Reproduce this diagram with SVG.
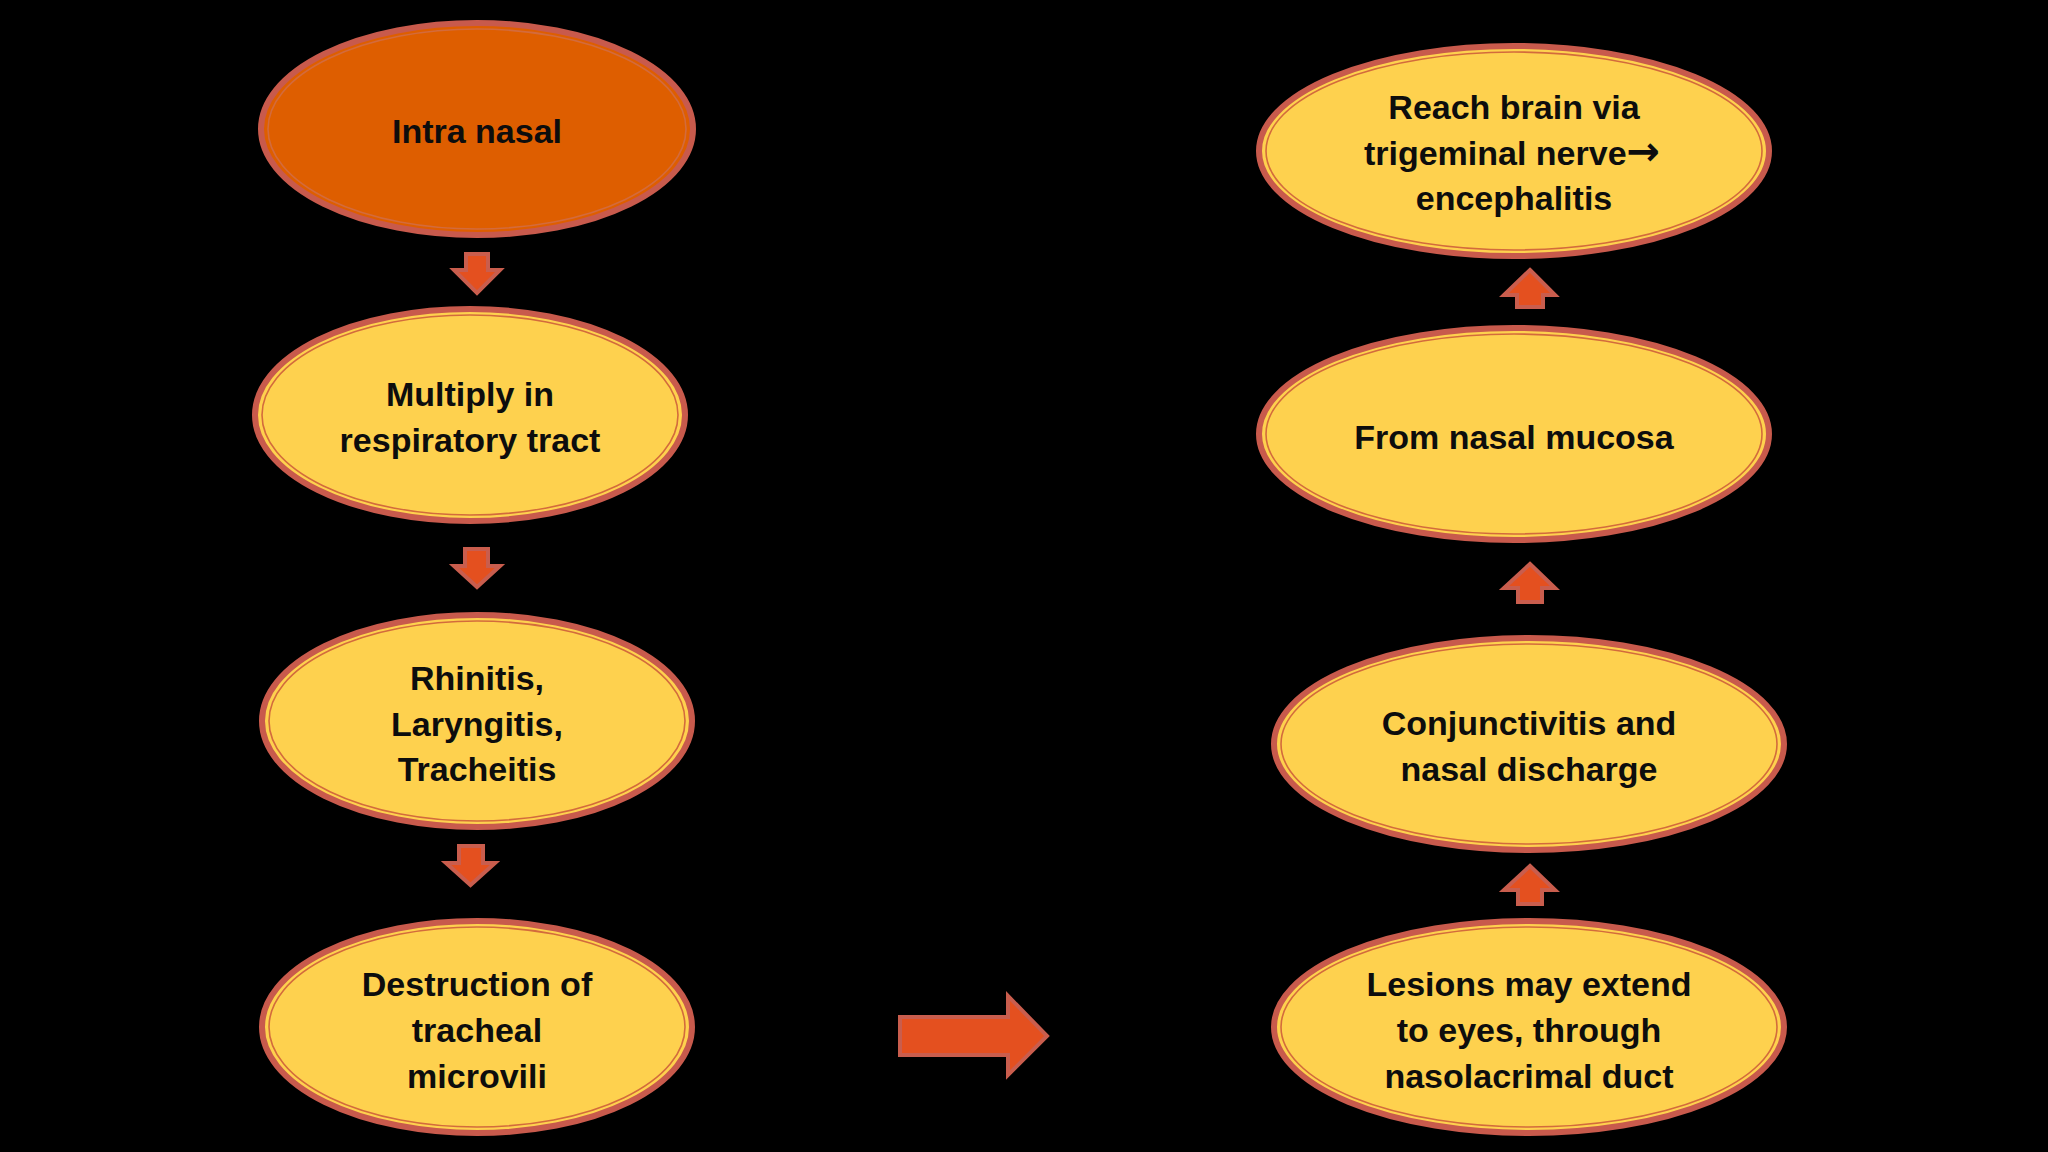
<svg xmlns="http://www.w3.org/2000/svg" width="2048" height="1152" viewBox="0 0 2048 1152">
<style>
.bg{fill:#000}
.el{fill:#FED14E;stroke:#C85A4C;stroke-width:6}
.el.dark{fill:#DE5E00}
.inner{fill:none;stroke:#D36B3C;stroke-width:1.6}
.arr{fill:#E4501F;stroke:#C95D4D;stroke-width:4;stroke-linejoin:miter}
text{font-family:"Liberation Sans",Arial,sans-serif;font-weight:bold;font-size:34px;fill:#0d0d0d;text-anchor:middle}
.sym{font-family:"DejaVu Sans",sans-serif;font-size:40px}
</style>
<rect class="bg" x="0" y="0" width="2048" height="1152"/>

<g id="n1">
<ellipse class="el dark" cx="477" cy="129" rx="216" ry="106"/>
<ellipse class="inner" cx="477" cy="129" rx="209" ry="100"/>
<text x="477" y="143">Intra nasal</text>
</g>

<g id="n2">
<ellipse class="el" cx="470" cy="415" rx="215" ry="106"/>
<ellipse class="inner" cx="470" cy="415" rx="208" ry="100"/>
<text x="470" y="406">Multiply in</text>
<text x="470" y="452">respiratory tract</text>
</g>

<g id="n3">
<ellipse class="el" cx="477" cy="721" rx="215" ry="106"/>
<ellipse class="inner" cx="477" cy="721" rx="208" ry="100"/>
<text x="477" y="690">Rhinitis,</text>
<text x="477" y="736">Laryngitis,</text>
<text x="477" y="781">Tracheitis</text>
</g>

<g id="n4">
<ellipse class="el" cx="477" cy="1027" rx="215" ry="106"/>
<ellipse class="inner" cx="477" cy="1027" rx="208" ry="100"/>
<text x="477" y="996">Destruction of</text>
<text x="477" y="1042">tracheal</text>
<text x="477" y="1088">microvili</text>
</g>

<g id="n5">
<ellipse class="el" cx="1514" cy="151" rx="255" ry="105"/>
<ellipse class="inner" cx="1514" cy="151" rx="248" ry="99"/>
<text x="1514" y="119">Reach brain via</text>
<text x="1512" y="165">trigeminal nerve<tspan class="sym">→</tspan></text>
<text x="1514" y="210">encephalitis</text>
</g>

<g id="n6">
<ellipse class="el" cx="1514" cy="434" rx="255" ry="106"/>
<ellipse class="inner" cx="1514" cy="434" rx="248" ry="100"/>
<text x="1514" y="449">From nasal mucosa</text>
</g>

<g id="n7">
<ellipse class="el" cx="1529" cy="744" rx="255" ry="106"/>
<ellipse class="inner" cx="1529" cy="744" rx="248" ry="100"/>
<text x="1529" y="735">Conjunctivitis and</text>
<text x="1529" y="781">nasal discharge</text>
</g>

<g id="n8">
<ellipse class="el" cx="1529" cy="1027" rx="255" ry="106"/>
<ellipse class="inner" cx="1529" cy="1027" rx="248" ry="100"/>
<text x="1529" y="996">Lesions may extend</text>
<text x="1529" y="1042">to eyes, through</text>
<text x="1529" y="1088">nasolacrimal duct</text>
</g>

<g id="connectors">
<path class="arr" d="M466,254 H488 V270 H500 L477,293 L454,270 H466 Z"/>
<path class="arr" d="M465,549 H488 V566 H500 L477,587 L454,566 H465 Z"/>
<path class="arr" d="M459,846 H483 V863 H495 L470.5,885 L446,863 H459 Z"/>
<path class="arr" d="M1530,270 L1555,295 H1543 V307 H1517 V295 H1504 Z"/>
<path class="arr" d="M1530,564 L1555,588 H1542 V602 H1518 V588 H1504 Z"/>
<path class="arr" d="M1530,866 L1555,890 H1542 V904 H1518 V890 H1504 Z"/>
<path class="arr" d="M900,1017 H1008 V996 L1047,1036 L1008,1075 V1055 H900 Z"/>
</g>
</svg>
